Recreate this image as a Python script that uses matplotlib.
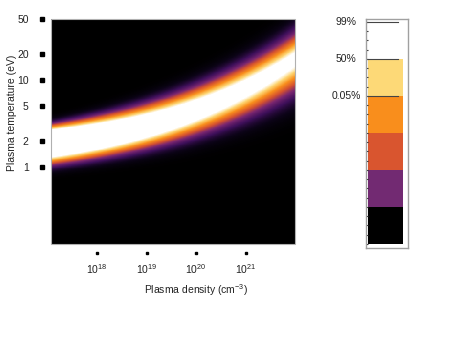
import numpy as np
import matplotlib
matplotlib.use("Agg")
import matplotlib.pyplot as plt
from matplotlib.colors import LinearSegmentedColormap
from matplotlib.transforms import blended_transform_factory

plt.rcParams['font.family'] = ['Liberation Sans', 'DejaVu Sans']
plt.rcParams['mathtext.fontset'] = 'custom'
plt.rcParams['mathtext.rm'] = 'Liberation Sans'
plt.rcParams['mathtext.it'] = 'Liberation Sans:italic'

# ---- data ----
log_density = [17, 18, 19, 20, 21, 22]              # log10 of density (cm^-3)
center_logT = [0.27, 0.36, 0.47, 0.65, 0.91, 1.24]  # band centre, log10 T(eV)
core_half = [0.13, 0.12, 0.10, 0.065, 0.035, 0.01]  # flat white core half-width (decades)
upper_fade = [0.06, 0.09, 0.12, 0.14, 0.17, 0.2]    # fade width above band
lower_fade = [0.09, 0.09, 0.115, 0.15, 0.2, 0.24]   # fade width below band

y_ticks = [1, 2, 5, 10, 20, 50]
y_ticklabels = ['1', '2', '5', '10', '20', '50']
x_ticks = [1e18, 1e19, 1e20, 1e21]
x_ticklabels = ['$10^{18}$', '$10^{19}$', '$10^{20}$', '$10^{21}$']

cb_colors = ['#000000', '#722a72', '#d9552f', '#f98e1c', '#fdd977', '#ffffff']
cb_labels = ['0.05%', '50%', '99%']
cb_label_levels = [4, 5, 6]

xlim = (10**17.07, 10**22.0)
ylim = (0.132, 50)

# ---- figure ----
fig = plt.figure(figsize=(4.74, 3.55), dpi=100)
ax = fig.add_axes([51/474, 1-244/355, (295-51)/474, (244-19)/355])

lx = np.linspace(np.log10(xlim[0]), np.log10(xlim[1]), 500)
ly = np.linspace(np.log10(ylim[0]), np.log10(ylim[1]), 500)
LX, LY = np.meshgrid(lx, ly)


def smooth(vals, deg):
    return np.polyval(np.polyfit(log_density, vals, deg), LX)


c = smooth(center_logT, 3)
h = np.clip(smooth(core_half, 2), 0, None)
fu = smooth(upper_fade, 2)
fl = smooth(lower_fade, 2)
d = LY - c
t = np.where(d > 0, np.maximum(d - h, 0) / fu, np.maximum(-d - h, 0) / fl)
V = np.exp(-0.5 * t**2)

cmap = LinearSegmentedColormap.from_list('band', [
    (0.0, '#000000'), (0.06, '#0b0316'), (0.2, '#3e0f5a'), (0.36, '#7a2670'),
    (0.52, '#d4512f'), (0.7, '#f98e1c'), (0.85, '#fdd470'), (0.95, '#ffffff'),
    (1.0, '#ffffff')])
ax.pcolormesh(10**lx, 10**ly, V, cmap=cmap, vmin=0, vmax=1, shading='auto',
              rasterized=True)
ax.set_xscale('log')
ax.set_yscale('log')
ax.set_xlim(*xlim)
ax.set_ylim(*ylim)

for s in ax.spines.values():
    s.set_visible(False)
ax.add_patch(plt.Rectangle((0, 0), 1, 1, transform=ax.transAxes, fill=False,
                           edgecolor='#b0b0b0', lw=0.8, clip_on=False))

# offset square ticks
ax.set_yticks(y_ticks)
ax.set_yticklabels(y_ticklabels)
ax.set_xticks(x_ticks)
ax.set_xticklabels(x_ticklabels)
ax.minorticks_off()
ax.tick_params(axis='both', length=0, labelsize=7.5, colors='#222222')
ax.tick_params(axis='y', pad=16)
ax.tick_params(axis='x', pad=13)
ty = blended_transform_factory(ax.transAxes, ax.transData)
tx = blended_transform_factory(ax.transData, ax.transAxes)
off_y = -9 / (295 - 51)
off_x = -9 / (244 - 19)
ax.plot([off_y]*len(y_ticks), y_ticks, 's', ms=2.6, color='black',
        transform=ty, clip_on=False)
ax.plot(x_ticks, [off_x]*len(x_ticks), 's', ms=2.0, color='black',
        transform=tx, clip_on=False)

fig.text(12/474, 1-113/355, 'Plasma temperature (eV)', rotation=90,
         ha='center', va='center', fontsize=7.5, color='#222222')
fig.text(196/474, 1-290/355, 'Plasma density (cm$^{-3}$)',
         ha='center', va='center', fontsize=7.5, color='#222222')

# ---- discrete colour bar ----
cax = fig.add_axes([366/474, 1-248/355, 42/474, 229/355])
cax.set_xlim(0, 42)
cax.set_ylim(-0.11, 6.08)
for i, col in enumerate(cb_colors):
    cax.add_patch(plt.Rectangle((2, i), 35, 1, facecolor=col, edgecolor='none'))
for lev, lab in zip(cb_label_levels, cb_labels):
    cax.plot([0, 32], [lev, lev], color='#444444', lw=0.8)
    cax.text(-20, lev, lab, ha='center', va='center', fontsize=7.5,
             color='#222222', clip_on=False)
for s in cax.spines.values():
    s.set_color('#a0a0a0')
    s.set_linewidth(1.0)
cax.set_xticks([])
cax.set_yticks(np.arange(0, 6.01, 0.25))
cax.tick_params(axis='y', direction='in', length=1.5, width=0.8,
                labelleft=False, color='#333333')

fig.savefig('out.png', dpi=100)
